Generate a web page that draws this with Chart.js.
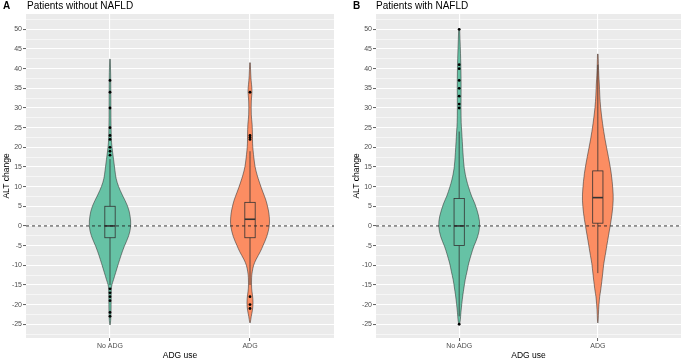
<!DOCTYPE html>
<html>
<head>
<meta charset="utf-8">
<script src="https://cdn.jsdelivr.net/npm/chart.js@4"></script>
<style>
body { margin: 0; background: #fff; }
#wrap { position: relative; width: 685px; height: 361px; }
canvas { position: absolute; top: 0; }
</style>
</head>
<body>
<div id="wrap">
  <canvas id="chartA" width="340" height="361" style="left:0px"></canvas>
  <canvas id="chartB" width="345" height="361" style="left:340px"></canvas>
</div>
<script>
// categories and ticks
const categories = ['No ADG', 'ADG'];
const yTicks = [-25, -20, -15, -10, -5, 0, 5, 10, 15, 20, 25, 30, 35, 40, 45, 50];
const yMinorTicks = [-27.5, -22.5, -17.5, -12.5, -7.5, -2.5, 2.5, 7.5, 12.5, 17.5, 22.5, 27.5, 32.5, 37.5, 42.5, 47.5, 52.5];

// violin profiles: [ALT change, estimated density (arbitrary units)]
const aNoAdgViolin = [[42.4,0.3],[38,0.8],[30,0.9],[25,1.0],[21,1.5],[19,2.5],[17,3.5],[14,5],[12,6],[10,8.5],[8,12],[5,18],[2.5,20.3],[0,21],[-2.5,19],[-5.3,14],[-7.5,11],[-9.5,8.5],[-12,5.5],[-13.7,3.5],[-15,1.8],[-16,1.3],[-20,1.1],[-23,1.0],[-25.2,0.3]];
const aAdgViolin = [[41.5,0.3],[38,0.8],[36,1.5],[34.2,2.2],[32,1.2],[28,1.2],[26,2.2],[23,2.5],[21,2.5],[19.3,3],[17,4],[15,5],[13,7],[11,9.5],[8.5,13],[6.6,16],[4,18.5],[2,19.5],[0,19.5],[-2.7,17],[-5,13],[-6.5,10.5],[-8.5,6],[-10,3.5],[-11.5,2.3],[-13,1.5],[-16,1.5],[-17.5,2.5],[-19.5,3.2],[-21.5,2.5],[-23,1.2],[-24.7,0.3]];
const bNoAdgViolin = [[50,0.5],[45,1.2],[40,1.8],[35,2.0],[30,1.8],[26,2],[24.4,2.5],[18.5,3.8],[14.5,5],[11.5,7.5],[10,9.3],[7.5,12.5],[5.8,15.8],[2.4,20],[0,21],[-2.7,19],[-5.3,14.5],[-7,12.5],[-9.5,9.5],[-11.5,8],[-13.7,6],[-15.4,5],[-17.9,3.5],[-19.7,2.7],[-22,1.7],[-24,1.2],[-25,0.4]];
const bAdgViolin = [[43.7,0.3],[41,0.6],[38,1.0],[36.3,1.5],[33,2.0],[30.3,2.7],[26.1,4.7],[21.9,7.3],[17.6,10.7],[13.4,13.7],[9.2,15.3],[6.6,15.7],[3.2,14.5],[0,12.5],[-3.6,10],[-7.8,7.3],[-9.5,6],[-12,5],[-16.3,3],[-18,1.8],[-19.7,1.3],[-21,0.8],[-24.7,0.3]];

// box stats: [lower whisker, Q1, median, Q3, upper whisker]
const aNoAdgBox = [-15, -3, 0, 5, 17];
const aAdgBox = [-15, -3, 1.7, 6, 19];
const bNoAdgBox = [-23, -5, 0, 7, 24];
const bAdgBox = [-12, 0.7, 7.2, 14, 41];

// outliers
const aNoAdgOut = [37, 34, 30, 25, 23, 22, 20, 19, 18, -16, -17, -18, -19, -22, -23];
const aAdgOut = [34, 23, 22.5, 22, -18, -20, -21];
const bNoAdgOut = [50, 41, 40, 37, 35, 33, 31, 30, -25];
const bAdgOut = [];

const fillColors = ['#66C2A5', '#FC8D62'];
const violinScale = 1 / 140;
const fontFamily = '"Liberation Sans", Arial, sans-serif';

function panelPlugin(panel) {
    return {
        id: 'panel' + panel.letter,
        beforeDraw(chart) {
            const ctx = chart.ctx, a = chart.chartArea;
            ctx.save();
            ctx.fillStyle = '#EBEBEB';
            ctx.fillRect(a.left, a.top, a.right - a.left, a.bottom - a.top);
            ctx.restore();
        },
        beforeDatasetsDraw(chart) {
            const ctx = chart.ctx, x = chart.scales.x, y = chart.scales.y, a = chart.chartArea;
            ctx.save();
            panel.groups.forEach((g, i) => {
                const c = i + 1;
                // violin outline, right side down then left side up
                const pts = [];
                g.violin.forEach(([v, d]) => pts.push([x.getPixelForValue(c + d * violinScale), y.getPixelForValue(v)]));
                g.violin.slice().reverse().forEach(([v, d]) => pts.push([x.getPixelForValue(c - d * violinScale), y.getPixelForValue(v)]));
                ctx.beginPath();
                ctx.moveTo(pts[0][0], pts[0][1]);
                for (let k = 1; k < pts.length - 1; k++) {
                    const mx = (pts[k][0] + pts[k + 1][0]) / 2, my = (pts[k][1] + pts[k + 1][1]) / 2;
                    ctx.quadraticCurveTo(pts[k][0], pts[k][1], mx, my);
                }
                ctx.lineTo(pts[pts.length - 1][0], pts[pts.length - 1][1]);
                ctx.closePath();
                ctx.fillStyle = fillColors[i];
                ctx.fill();
                ctx.strokeStyle = 'rgba(40,40,40,0.75)';
                ctx.lineWidth = 0.7;
                ctx.stroke();

                // box plot
                const [lo, q1, med, q3, hi] = g.box;
                const cx = x.getPixelForValue(c);
                const bl = x.getPixelForValue(c - 0.037), br = x.getPixelForValue(c + 0.037);
                ctx.strokeStyle = '#333';
                ctx.lineWidth = 0.8;
                ctx.beginPath();
                ctx.moveTo(cx, y.getPixelForValue(q3)); ctx.lineTo(cx, y.getPixelForValue(hi));
                ctx.moveTo(cx, y.getPixelForValue(q1)); ctx.lineTo(cx, y.getPixelForValue(lo));
                ctx.stroke();
                ctx.strokeRect(bl, y.getPixelForValue(q3), br - bl, y.getPixelForValue(q1) - y.getPixelForValue(q3));
                ctx.lineWidth = 1.6;
                ctx.beginPath();
                ctx.moveTo(bl, y.getPixelForValue(med)); ctx.lineTo(br, y.getPixelForValue(med));
                ctx.stroke();
            });
            // dashed reference line at 0
            ctx.strokeStyle = '#222';
            ctx.lineWidth = 0.9;
            ctx.setLineDash([3, 3]);
            ctx.beginPath();
            ctx.moveTo(a.left, y.getPixelForValue(0));
            ctx.lineTo(a.right, y.getPixelForValue(0));
            ctx.stroke();
            ctx.restore();
        },
        afterDraw(chart) {
            const ctx = chart.ctx;
            ctx.save();
            ctx.fillStyle = '#000';
            ctx.textBaseline = 'middle';
            ctx.font = 'bold 10px ' + fontFamily;
            ctx.fillText(panel.letter, panel.letterX, 6.5);
            ctx.font = '10px ' + fontFamily;
            ctx.fillText(panel.title, panel.titleX, 6.5);
            ctx.restore();
        }
    };
}

function makeChart(id, panel) {
    const outliers = [];
    panel.groups.forEach((g, i) => g.outliers.forEach(v => outliers.push({x: i + 1, y: v})));
    return new Chart(document.getElementById(id), {
        type: 'scatter',
        data: {
            datasets: [{
                data: outliers,
                pointRadius: 1.4,
                pointBackgroundColor: '#000',
                pointBorderWidth: 0
            }]
        },
        options: {
            responsive: false,
            animation: false,
            devicePixelRatio: 1,
            layout: { padding: panel.padding },
            plugins: { legend: { display: false }, tooltip: { enabled: false } },
            scales: {
                x: {
                    type: 'linear',
                    min: 0.4,
                    max: 2.6,
                    afterBuildTicks: s => { s.ticks = categories.map((c, i) => ({value: i + 1})); },
                    afterFit: s => { s.height = 23; },
                    border: { display: false },
                    grid: { color: '#FFFFFF', lineWidth: 1.1, tickLength: 3, tickColor: '#333', tickWidth: 0.8 },
                    ticks: {
                        autoSkip: false,
                        maxRotation: 0,
                        padding: 1,
                        color: '#4D4D4D',
                        font: { family: fontFamily, size: 7 },
                        callback: v => categories[v - 1]
                    },
                    title: { display: true, text: 'ADG use', color: '#000', padding: 0, font: { family: fontFamily, size: 8.5 } }
                },
                y: {
                    type: 'linear',
                    min: -28.5,
                    max: 53.9,
                    afterBuildTicks: s => { s.ticks = yMinorTicks.concat(yTicks).sort((p, q) => p - q).map(v => ({value: v})); },
                    afterFit: s => { s.width = 26; },
                    border: { display: false },
                    grid: {
                        color: '#FFFFFF',
                        lineWidth: c => (c.tick && yTicks.includes(c.tick.value)) ? 1.1 : 0.55,
                        tickLength: 3,
                        tickWidth: 0.8,
                        tickColor: c => (c.tick && yTicks.includes(c.tick.value)) ? '#333' : 'rgba(0,0,0,0)'
                    },
                    ticks: {
                        autoSkip: false,
                        padding: 1,
                        color: '#4D4D4D',
                        font: { family: fontFamily, size: 7 },
                        callback: v => yTicks.includes(v) ? String(v) : ''
                    },
                    title: { display: true, text: 'ALT change', color: '#000', padding: { top: 2, bottom: 0 }, font: { family: fontFamily, size: 8.5 } }
                }
            }
        },
        plugins: [panelPlugin(panel)]
    });
}

makeChart('chartA', {
    letter: 'A', letterX: 3, title: 'Patients without NAFLD', titleX: 27,
    padding: { top: 14, right: 6, left: 0, bottom: 0 },
    groups: [
        { violin: aNoAdgViolin, box: aNoAdgBox, outliers: aNoAdgOut },
        { violin: aAdgViolin, box: aAdgBox, outliers: aAdgOut }
    ]
});

makeChart('chartB', {
    letter: 'B', letterX: 13, title: 'Patients with NAFLD', titleX: 36,
    padding: { top: 14, right: 1, left: 10, bottom: 0 },
    groups: [
        { violin: bNoAdgViolin, box: bNoAdgBox, outliers: bNoAdgOut },
        { violin: bAdgViolin, box: bAdgBox, outliers: bAdgOut }
    ]
});
</script>
</body>
</html>
